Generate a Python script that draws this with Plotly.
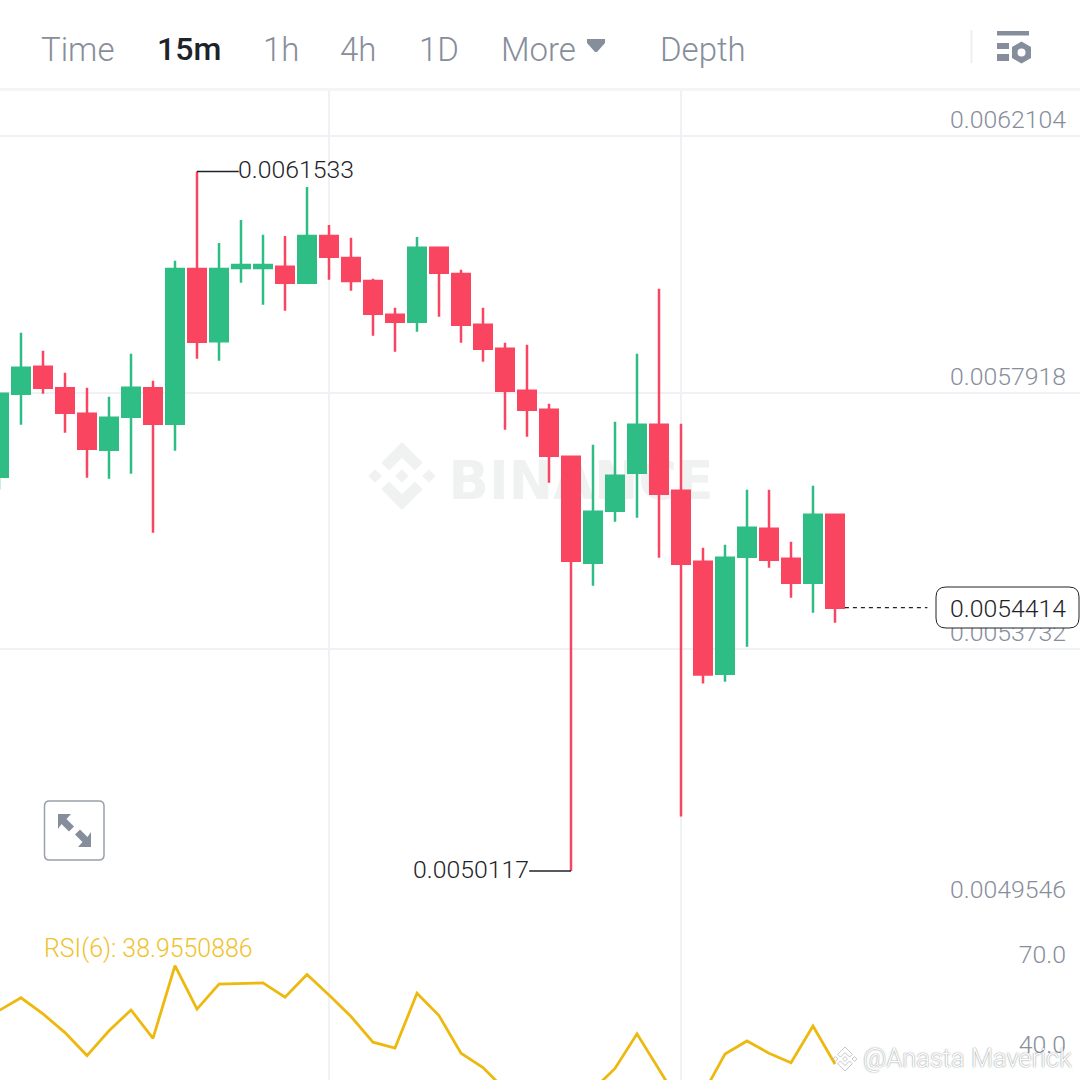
import plotly.graph_objs as go

# candles, left to right
opens = [0.0056551, 0.0057904, 0.0058345, 0.0057994, 0.0057578, 0.0056991, 0.0057529, 0.0057994,
         0.0057415, 0.0059943, 0.0058761, 0.0059959, 0.0059959, 0.0059976, 0.0059715, 0.0060481,
         0.0060122, 0.0059747, 0.0059193, 0.0059079, 0.0060286, 0.0059861, 0.0059030, 0.0058638,
         0.0057953, 0.0057643, 0.0056877, 0.0055148, 0.0055996, 0.0056616, 0.0057399, 0.0056322,
         0.0055165, 0.0053338, 0.0055246, 0.0055703, 0.0055213, 0.0054822, 0.0055931]
highs = [0.0057904, 0.0058899, 0.0058606, 0.0058247, 0.0058002, 0.0057855, 0.0058557, 0.0058116,
         0.0060074, 0.0061533, 0.0060367, 0.0060742, 0.0060498, 0.0060481, 0.0061280, 0.0060661,
         0.0060449, 0.0059780, 0.0059307, 0.0060465, 0.0060302, 0.0059927, 0.0059307, 0.0058736,
         0.0058704, 0.0057741, 0.0056877, 0.0057073, 0.0057448, 0.0058557, 0.0059617, 0.0057415,
         0.0055393, 0.0055442, 0.0056339, 0.0056339, 0.0055491, 0.0056404, 0.0055931]
lows = [0.0056339, 0.0057399, 0.0057904, 0.0057268, 0.0056534, 0.0056518, 0.0056600, 0.0055637,
        0.0056975, 0.0058475, 0.0058443, 0.0059715, 0.0059356, 0.0059258, 0.0059698, 0.0059764,
        0.0059584, 0.0058850, 0.0058589, 0.0058916, 0.0059160, 0.0058736, 0.0058426, 0.0057317,
        0.0057203, 0.0056453, 0.0050117, 0.0054773, 0.0055817, 0.0055882, 0.0055230, 0.0051006,
        0.0053175, 0.0053207, 0.0053778, 0.0055067, 0.0054577, 0.0054333, 0.0054170]
closes = [0.0057904, 0.0058329, 0.0058002, 0.0057595, 0.0057007, 0.0057513, 0.0058002, 0.0057415,
          0.0059943, 0.0058753, 0.0059943, 0.0060008, 0.0060008, 0.0059715, 0.0060481, 0.0060139,
          0.0059747, 0.0059209, 0.0059079, 0.0060286, 0.0059878, 0.0059030, 0.0058638, 0.0057953,
          0.0057643, 0.0056893, 0.0055181, 0.0055980, 0.0056567, 0.0057399, 0.0056274, 0.0055132,
          0.0053322, 0.0055230, 0.0055719, 0.0055197, 0.0054822, 0.0055931, 0.0054414]
# the stretch under the bottom edge is a guess, it is cut off in the picture
rsi = [56.9, 61.2, 55.8, 49.5, 41.8, 50.1, 57.1, 47.6, 72.0, 57.4, 65.8, 66.1, 66.2, 61.4, 69.0,
       62.1, 54.9, 46.3, 44.3, 62.7, 55.2, 42.6, 37.8, 30.3, 28.0, 25.0, 15.0, 30.3, 37.5, 49.1,
       37.6, 25.2, 28.9, 42.3, 46.7, 42.6, 39.4, 51.7, 38.955]

price_ticks = [0.0062104, 0.0057918, 0.0053732, 0.0049546]
price_labels = ["0.0062104", "0.0057918", "0.0053732", "0.0049546"]
rsi_ticks = [70, 40]
rsi_labels = ["70.0", "40.0"]
grid_candles = [15, 31]
menu = ["Time", "15m", "1h", "4h", "1D", "More", "Depth"]
menu_left = [39.5, 155.5, 261.5, 338.5, 417.5, 499.5, 658.5]

high_label = "0.0061533"
low_label = "0.0050117"
last_label = "0.0054414"
rsi_label = "RSI(6): 38.9550886"

GREEN = "#2ebd85"
RED = "#fa4560"
GREY = "#878e9b"
DARK = "#1e2329"
GRID = "#f0f1f4"
FONT = "Roboto"

candle_x = list(range(len(opens)))


# screenshot pixels -> paper coords
def px(x):
    return x / 1080


def py(y):
    return 1 - y / 1080


def poly(pts):
    return "M" + " L".join(f"{px(x)},{py(y)}" for x, y in pts) + " Z"


def round_box(x0, y0, x1, y1, r):
    return (f"M{px(x0+r)},{py(y0)} L{px(x1-r)},{py(y0)} Q{px(x1)},{py(y0)} {px(x1)},{py(y0+r)} "
            f"L{px(x1)},{py(y1-r)} Q{px(x1)},{py(y1)} {px(x1-r)},{py(y1)} "
            f"L{px(x0+r)},{py(y1)} Q{px(x0)},{py(y1)} {px(x0)},{py(y1-r)} "
            f"L{px(x0)},{py(y0+r)} Q{px(x0)},{py(y0)} {px(x0+r)},{py(y0)} Z")


def paper_path(path, fill, line=None, width=0, layer="above"):
    return dict(type="path", xref="paper", yref="paper", path=path, fillcolor=fill, layer=layer,
                line=dict(color=line or fill, width=width))


def text(x, y, s, size=24, color=GREY, anchor="left"):
    return dict(xref="paper", yref="paper", x=px(x), y=py(y), text=s, showarrow=False, xanchor=anchor,
                yanchor="middle", borderpad=0, font=dict(family=FONT, size=size, color=color, weight=300))


# binance diamond, parts in a unit square round the centre
top_part = [(0, -1), (.61, -.39), (.38, -.16), (0, -.54), (-.38, -.16), (-.61, -.39)]
logo_parts = [top_part,
              [(x, -y) for x, y in top_part],
              [(0, -.2), (.2, 0), (0, .2), (-.2, 0)],
              [(-.79, -.2), (-.59, 0), (-.79, .2), (-.99, 0)],
              [(.79, -.2), (.99, 0), (.79, .2), (.59, 0)]]


def logo(cx, cy, r, fill, line=None, width=0, layer="below"):
    return [paper_path(poly([(cx + a * r, cy + b * r) for a, b in part]), fill, line, width, layer)
            for part in logo_parts]


arrow_pts = [(58, 814), (71, 814), (66.5, 819), (74, 826.5), (69, 831.5), (61.5, 824), (58, 829)]

shapes = []
shapes += logo(402, 476, 34, "#f0f1f1")
shapes.append(dict(type="rect", xref="paper", yref="paper", x0=px(440), x1=px(722), y0=py(456), y1=py(497),
                   layer="below", line=dict(width=0),
                   label=dict(text="<b>BINANCE</b>", textposition="middle center",
                              font=dict(family="DejaVu Sans", size=53, color="#f0f1f1"))))
# header separator
shapes.append(dict(type="rect", xref="paper", yref="paper", x0=0, x1=1, y0=py(91), y1=py(88),
                   fillcolor="#f5f5f5", line=dict(width=0)))
shapes.append(dict(type="line", xref="paper", yref="paper", x0=px(971.5), x1=px(971.5), y0=py(30), y1=py(63),
                   line=dict(color="#eeeeee", width=2)))
# header icons
shapes.append(paper_path(poly([(587, 39), (605, 39), (605, 43), (597, 52), (595, 52), (587, 43)]), GREY))
shapes.append(paper_path(poly([(997, 31), (1029, 31), (1029, 35.5), (997, 35.5)]), GREY))
shapes.append(paper_path(poly([(997, 43), (1009, 43), (1009, 49), (997, 49)]), GREY))
shapes.append(paper_path(poly([(997, 54), (1009, 54), (1009, 61), (997, 61)]), GREY))
shapes.append(paper_path(poly([(1021.5, 41.5), (1031, 47), (1031, 58), (1021.5, 63.5), (1012, 58), (1012, 47)]), GREY))
shapes.append(dict(type="circle", xref="paper", yref="paper", x0=px(1017.5), x1=px(1025.5), y0=py(56.5), y1=py(48.5),
                   fillcolor="white", line=dict(width=0)))
# expand button
shapes.append(paper_path(round_box(44.5, 801, 104, 860, 5), "white", "#9aa1ab", 1.5))
shapes.append(paper_path(poly(arrow_pts), GREY))
shapes.append(paper_path(poly([(149 - x, 1661 - y) for x, y in arrow_pts]), GREY))
# leader lines of high and low
shapes.append(dict(type="line", xref="x", yref="y", x0=9, x1=10.9, y0=highs[9], y1=highs[9],
                   line=dict(color=DARK, width=1.5)))
shapes.append(dict(type="line", xref="x", yref="y", x0=26, x1=24.1, y0=lows[26], y1=lows[26],
                   line=dict(color=DARK, width=1.5)))
# last price
shapes.append(dict(type="line", xref="x", yref="y", x0=38.45, x1=42.2, y0=closes[38], y1=closes[38],
                   line=dict(color=DARK, width=1.3, dash="4px,4px")))
shapes.append(paper_path(round_box(936, 587, 1079, 628, 10), "white", DARK, 1))
# reposter watermark
shapes += logo(845, 1059, 12, "rgba(0,0,0,0)", "#b4b8bd", 0.8, "above")

annotations = [text(l, 49, m, 33, DARK if m == "15m" else GREY) for m, l in zip(menu, menu_left)]
annotations[1]["font"]["weight"] = 500
annotations[1]["font"]["size"] = 32
annotations.append(dict(x=10.78, y=highs[9], yshift=1.5, xref="x", yref="y", text=high_label, showarrow=False,
                        xanchor="left", yanchor="middle", font=dict(family=FONT, size=24.8, color=DARK, weight=300)))
annotations.append(dict(x=24.2, y=lows[26], yshift=1.5, xref="x", yref="y", text=low_label, showarrow=False,
                        xanchor="right", yanchor="middle", font=dict(family=FONT, size=24.8, color=DARK, weight=300)))
annotations.append(text(1066.5, 608, last_label, 24.8, DARK, "right"))
annotations.append(text(43, 948, rsi_label, 24.9, "#efc22b"))
wm = text(862, 1058, "@Anasta Maverick", 25.5, "white")
wm["font"]["shadow"] = "0 0 1.5px #5f646b"
annotations.append(wm)

candles = go.Candlestick(x=candle_x, open=opens, high=highs, low=lows, close=closes, whiskerwidth=0,
                         increasing=dict(line=dict(color=GREEN, width=2.5), fillcolor=GREEN),
                         decreasing=dict(line=dict(color=RED, width=2.5), fillcolor=RED),
                         xaxis="x", yaxis="y", hoverinfo="skip")
rsi_line = go.Scatter(x=candle_x, y=rsi, mode="lines", line=dict(color="#edb90f", width=2.8),
                      xaxis="x2", yaxis="y2", hoverinfo="skip")

x_range = [1 / 22, 1081 / 22]
x_opts = dict(range=x_range, tickvals=grid_candles, showticklabels=False, ticks="", showgrid=True, gridcolor=GRID,
              gridwidth=1.5, zeroline=False, showline=False)
y_opts = dict(side="right", ticklabelposition="inside", ticks="", ticklabelstandoff=11, ticklabelshift=-17,
              tickfont=dict(family=FONT, size=24.8, color=GREY, weight=300), zeroline=False, showline=False)

layout = go.Layout(width=1080, height=1080, margin=dict(l=0, r=0, t=0, b=0), paper_bgcolor="white",
                   plot_bgcolor="rgba(0,0,0,0)", showlegend=False, boxgap=0.1, boxgroupgap=0.115, dragmode=False,
                   xaxis=dict(rangeslider=dict(visible=False), anchor="y", **x_opts),
                   xaxis2=dict(anchor="y2", **x_opts),
                   yaxis=dict(domain=[py(906), py(90)], range=[0.0049546, 0.0062862], tickvals=price_ticks,
                              ticktext=price_labels, showgrid=True, gridcolor=GRID, gridwidth=1.5, **y_opts),
                   yaxis2=dict(domain=[0, py(906)], range=[33.6, 92], tickvals=rsi_ticks, ticktext=rsi_labels,
                               showgrid=False, **y_opts),
                   shapes=shapes, annotations=annotations)

fig = go.Figure(data=[candles, rsi_line], layout=layout)
fig.write_html("out.html", post_script="document.body.style.margin='0';", config=dict(displayModeBar=False))
